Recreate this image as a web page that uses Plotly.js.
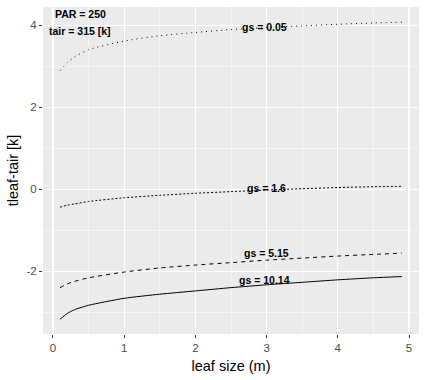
<!DOCTYPE html>
<html>
<head>
<meta charset="utf-8">
<script src="https://cdn.plot.ly/plotly-3.0.1.min.js"></script>
<style>html,body{margin:0;padding:0;background:#fff;}#chart{width:427px;height:380px;}</style>
</head>
<body>
<div id="chart"></div>
<script>
const leafSize = [0.1, 0.2, 0.3, 0.5, 1, 1.5, 2, 2.5, 3, 3.5, 4, 4.5, 4.9];
const gs005 = [2.89, 3.08, 3.22, 3.40, 3.61, 3.74, 3.82, 3.89, 3.94, 3.98, 4.02, 4.05, 4.07];
const gs16 = [-0.44, -0.39, -0.36, -0.30, -0.21, -0.15, -0.10, -0.06, -0.02, 0.01, 0.04, 0.06, 0.07];
const gs515 = [-2.40, -2.31, -2.25, -2.16, -2.02, -1.92, -1.85, -1.79, -1.73, -1.68, -1.63, -1.59, -1.56];
const gs1014 = [-3.17, -3.03, -2.94, -2.83, -2.66, -2.56, -2.48, -2.40, -2.33, -2.27, -2.21, -2.16, -2.13];
const seriesNames = ["gs = 0.05", "gs = 1.6", "gs = 5.15", "gs = 10.14"];
const seriesValues = [gs005, gs16, gs515, gs1014];
const seriesDash = ["1px,4px", "2px,2px", "4px,4px", "solid"];
const labelX = [2.97, 3.0, 3.0, 2.97];
const labelY = [3.95, 0.04, -1.56, -2.22];
const infoText = ["PAR = 250", "tair = 315 [k]"];
const infoX = [0.39, 0.38];
const infoY = [4.27, 3.85];

const traces = seriesValues.map((vals, i) => ({
  x: leafSize, y: vals, type: "scatter", mode: "lines", name: seriesNames[i],
  line: {color: "#000000", width: 1, dash: seriesDash[i], shape: "spline", smoothing: 0.6},
  showlegend: false, hoverinfo: "skip"
}));

const annotations = [];
seriesNames.forEach((t, i) => annotations.push({
  x: labelX[i], y: labelY[i], xref: "x", yref: "y", text: "<b>" + t + "</b>",
  showarrow: false, font: {family: "Liberation Sans, Arial, sans-serif", size: 10.5, color: "#000"}
}));
infoText.forEach((t, i) => annotations.push({
  x: infoX[i], y: infoY[i], xref: "x", yref: "y", text: "<b>" + t + "</b>",
  showarrow: false, font: {family: "Liberation Sans, Arial, sans-serif", size: 10.5, color: "#000"}
}));

const axisCommon = {
  showgrid: true, gridcolor: "#FFFFFF", gridwidth: 1.1, zeroline: false, showline: false,
  ticks: "outside", ticklen: 3, tickwidth: 1, tickcolor: "#333333",
  tickfont: {family: "Liberation Sans, Arial, sans-serif", size: 11.5, color: "#4D4D4D"},
};

const layout = {
  width: 427, height: 380,
  margin: {l: 43, r: 8, t: 7, b: 46},
  paper_bgcolor: "#FFFFFF", plot_bgcolor: "#EBEBEB",
  font: {family: "Liberation Sans, Arial, sans-serif"},
  xaxis: Object.assign({}, axisCommon, {
    range: [-0.14, 5.14], tickvals: [0, 1, 2, 3, 4, 5], ticktext: ["0", "1", "2", "3", "4", "5"],
    minor: {tickvals: [0.5, 1.5, 2.5, 3.5, 4.5], showgrid: true, gridcolor: "#FFFFFF", gridwidth: 0.5, ticks: ""},
    title: {text: "leaf size (m)", font: {size: 14.5, color: "#000"}, standoff: 8}
  }),
  yaxis: Object.assign({}, axisCommon, {
    range: [-3.53, 4.44], tickvals: [-2, 0, 2, 4], ticktext: ["-2", "0", "2", "4"],
    minor: {tickvals: [-3, -1, 1, 3], showgrid: true, gridcolor: "#FFFFFF", gridwidth: 0.5, ticks: ""},
    title: {text: "tleaf-tair [k]", font: {size: 14.5, color: "#000"}, standoff: 4}
  }),
  annotations: annotations
};

Plotly.newPlot("chart", traces, layout, {displayModeBar: false, staticPlot: true});
</script>
</body>
</html>
